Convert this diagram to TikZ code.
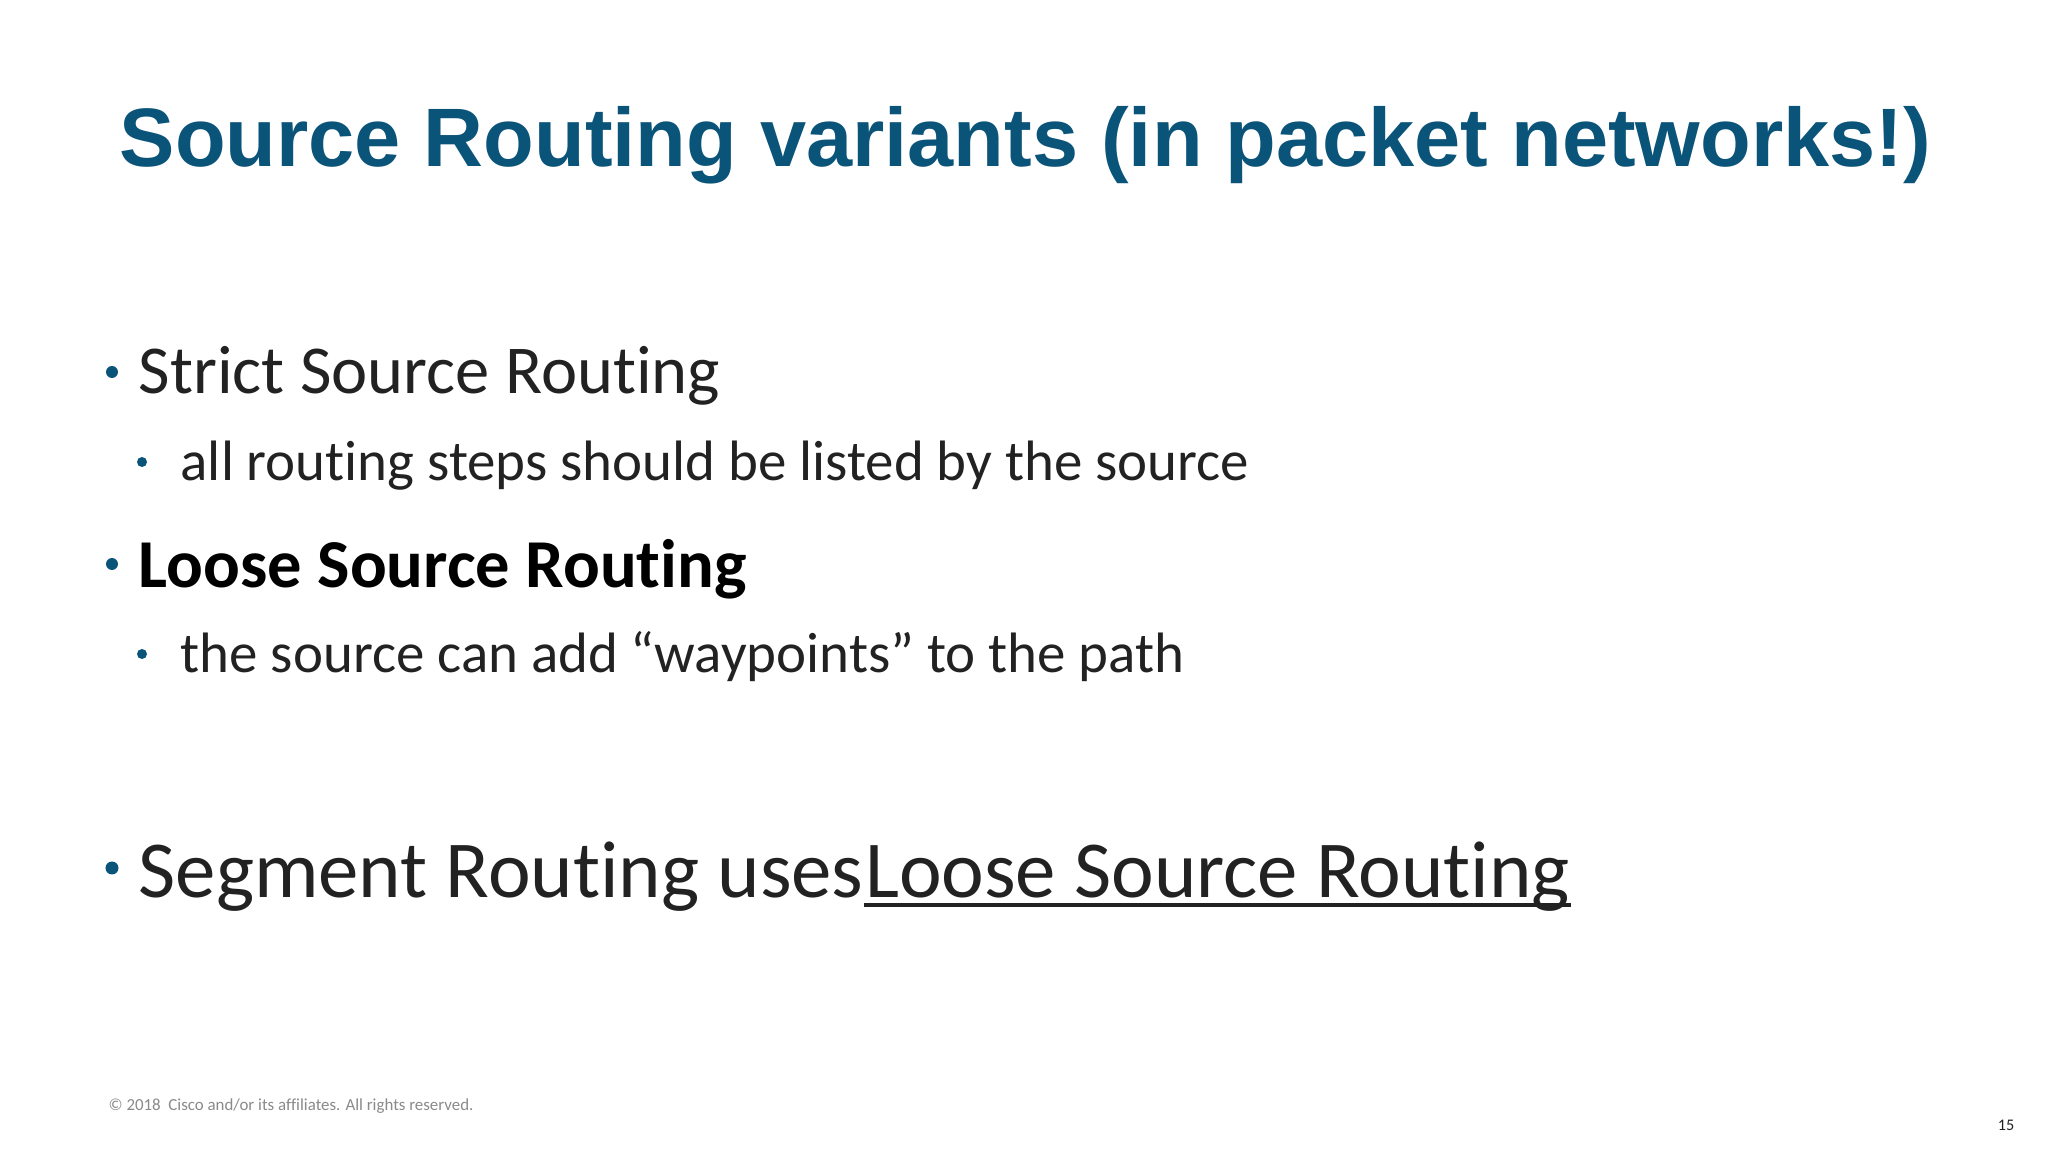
\documentclass[tikz,border=0pt]{standalone}
\usepackage{fontspec}
\setmainfont[Ligatures=NoCommon]{Carlito}
\newfontfamily\titlefont{Liberation Sans}
\definecolor{ttl}{HTML}{0B5479}
\definecolor{txt}{HTML}{222222}
\definecolor{ftr}{HTML}{8A8A8A}
\begin{document}
\begin{tikzpicture}[x=1cm,y=1cm,
  t/.style={anchor=base west,inner sep=0pt,text=txt},
  bul/.style={circle,fill=ttl,inner sep=0pt,minimum size=#1}]
\useasboundingbox (0,0) rectangle (20.48,-11.52);
\fill[white] (0,0) rectangle (20.48,-11.52);
\node[anchor=base west,inner sep=0pt,text=ttl] (title) at (1.19,-1.67)
  {\titlefont\bfseries\fontsize{23.6}{28}\selectfont Source Routing variants (in packet networks!)};
\node[bul=0.12cm] (b1) at (1.12,-3.72) {};
\node[t] (l1) at (1.38,-3.94) {\fontsize{19.5}{24}\selectfont Strict Source Routing};
\node[bul=0.10cm] (b2) at (1.42,-4.62) {};
\node[t] (l2) at (1.80,-4.81) {\fontsize{16.2}{20}\selectfont all routing steps should be listed by the source};
\node[bul=0.12cm] (b3) at (1.12,-5.64) {};
\node[t,text=black] (l3) at (1.38,-5.88) {\fontsize{19.5}{24}\selectfont\bfseries Loose Source Routing};
\node[bul=0.10cm] (b4) at (1.42,-6.54) {};
\node[t] (l4) at (1.80,-6.73) {\fontsize{16.2}{20}\selectfont the source can add “waypoints” to the path};
\node[bul=0.13cm] (b5) at (1.12,-8.68) {};
\node[t] (l5) at (1.38,-8.97) {\fontsize{23}{28}\selectfont Segment Routing uses };
\node[t] (l6) at (l5.base east) {\fontsize{23}{28}\selectfont Loose Source Routing};
\draw[txt,line width=0.04cm] ([yshift=-0.08cm]l6.base west) -- ([yshift=-0.08cm]l6.base east);
\node[t,text=ftr] (f) at (1.08,-11.10) {\fontsize{4.8}{6}\selectfont © 2018\ \ Cisco and/or its affiliates. All rights reserved.};
\node[anchor=base east,inner sep=0pt,text=txt] (pn) at (20.15,-11.30) {\fontsize{4.6}{6}\selectfont 15};
\end{tikzpicture}
\end{document}
